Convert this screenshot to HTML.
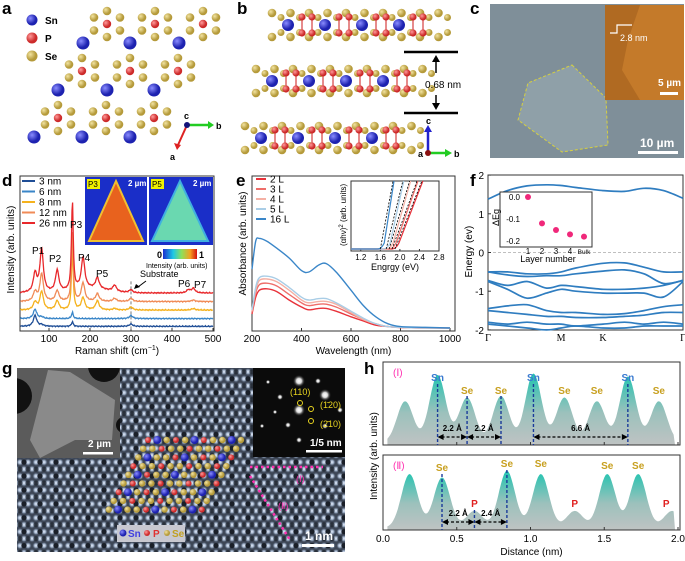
<!DOCTYPE html>
<html><head><meta charset="utf-8">
<style>
html,body{margin:0;padding:0;background:#fff;}
svg{display:block;font-family:"Liberation Sans",Arial,sans-serif;}
.pl{font-weight:bold;font-size:17px;}
</style></head>
<body>
<svg id="fig" width="685" height="561" viewBox="0 0 685 561" xmlns="http://www.w3.org/2000/svg">
<defs>
<radialGradient id="gSn" cx="35%" cy="35%"><stop offset="0" stop-color="#8a8cff"/><stop offset="1" stop-color="#1d22b0"/></radialGradient>
<radialGradient id="gP" cx="35%" cy="35%"><stop offset="0" stop-color="#ff9a9a"/><stop offset="1" stop-color="#cc2a2a"/></radialGradient>
<radialGradient id="gSe" cx="35%" cy="35%"><stop offset="0" stop-color="#f2e3a0"/><stop offset="1" stop-color="#b59a3a"/></radialGradient>
<radialGradient id="dot"><stop offset="0" stop-color="#e8f0ff"/><stop offset="0.5" stop-color="#9fb0c8"/><stop offset="1" stop-color="#5d6b80" stop-opacity="0"/></radialGradient>
<pattern id="stem" width="16" height="13.9" patternUnits="userSpaceOnUse">
<rect width="16" height="13.9" fill="#3d4656"/>
<circle cx="4" cy="3.5" r="3.6" fill="url(#dot)"/><circle cx="12" cy="3.5" r="3.6" fill="url(#dot)"/>
<circle cx="0" cy="10.4" r="3.6" fill="url(#dot)"/><circle cx="8" cy="10.4" r="3.6" fill="url(#dot)"/><circle cx="16" cy="10.4" r="3.6" fill="url(#dot)"/>
<circle cx="8" cy="3.5" r="2.6" fill="#1a1f28"/><circle cx="4" cy="10.4" r="2.6" fill="#1a1f28" opacity="0.6"/><circle cx="12" cy="10.4" r="2.6" fill="#1a1f28" opacity="0.6"/>
</pattern>
<linearGradient id="hfill" x1="0" y1="0" x2="0" y2="1"><stop offset="0" stop-color="#1fc4b0"/><stop offset="0.55" stop-color="#9cc1bc"/><stop offset="1" stop-color="#bfc3c3"/></linearGradient>
<linearGradient id="cbar" x1="0" x2="1"><stop offset="0" stop-color="#1a2fd0"/><stop offset="0.3" stop-color="#1ec8e6"/><stop offset="0.55" stop-color="#8fe05a"/><stop offset="0.8" stop-color="#f5a020"/><stop offset="1" stop-color="#d41010"/></linearGradient>
<radialGradient id="spot"><stop offset="0" stop-color="#fff"/><stop offset="0.4" stop-color="#ddd"/><stop offset="1" stop-color="#000" stop-opacity="0"/></radialGradient>
<clipPath id="semclip"><rect x="17" y="368" width="103" height="90"/></clipPath>
</defs>

<text class="pl" x="2" y="14">a</text>
<text class="pl" x="237" y="14">b</text>
<text class="pl" x="470" y="14">c</text>
<text class="pl" x="2" y="186">d</text>
<text class="pl" x="236" y="186">e</text>
<text class="pl" x="470" y="186">f</text>
<text class="pl" x="2" y="374">g</text>
<text class="pl" x="364" y="374">h</text>

<g id="pa"></g>
<g id="pb"></g>

<g>
<rect x="490" y="4" width="194" height="154" fill="#7f8f99"/>
<polygon points="572,65 606,98 608,145 562,152 518,120 528,83" fill="#8fa0a8" stroke="#d6d040" stroke-width="1" stroke-dasharray="3,2"/>
<rect x="605" y="5" width="79" height="95" fill="#b06a22"/>
<polygon points="640,5 684,5 684,100 640,100 622,70 628,40" fill="#c47a2a"/>
<polyline points="610,33 617,33 617,25 632,25" fill="none" stroke="#fff" stroke-width="1.2"/>
<text x="620" y="41" font-size="9" fill="#fff">2.8 nm</text>
<text x="658" y="86" font-size="10" fill="#fff" font-weight="bold">5 µm</text>
<rect x="660" y="92" width="18" height="3" fill="#fff"/>
<text x="640" y="147" font-size="12" fill="#fff" font-weight="bold">10 µm</text>
<rect x="638" y="151" width="40" height="3" fill="#fff"/>
</g>

<g id="pd"></g>
<g id="pe"></g>
<g id="pf"></g>

<g>
<rect x="17" y="368" width="328" height="184" fill="url(#stem)"/>
<g clip-path="url(#semclip)">
<rect x="17" y="368" width="103" height="90" fill="#5b5b5b"/>
<circle cx="14" cy="396" r="18" fill="#111"/>
<circle cx="104" cy="366" r="16" fill="#111"/>
<circle cx="124" cy="425" r="8" fill="#111"/>
<polygon points="48,370 70,372 115,400 112,440 75,440 40,458 30,440" fill="#8a8a8a"/>
</g>
<text x="88" y="447" font-size="10" fill="#fff" font-weight="bold">2 µm</text>
<rect x="83" y="452" width="30" height="2.5" fill="#fff"/>
<rect x="253" y="368" width="92" height="89" fill="#0b0b0b"/>
<g id="saed"></g>
<text x="290" y="395" font-size="9" fill="#e8d420">(110)</text>
<text x="320" y="408" font-size="9" fill="#e8d420">(1̄20)</text>
<text x="320" y="427" font-size="9" fill="#e8d420">(2̄10)</text>
<circle cx="300" cy="403" r="2.5" fill="none" stroke="#e8d420"/>
<circle cx="311" cy="409" r="2.5" fill="none" stroke="#e8d420"/>
<circle cx="311" cy="421" r="2.5" fill="none" stroke="#e8d420"/>
<text x="310" y="446" font-size="10" fill="#fff" font-weight="bold">1/5 nm</text>
<rect x="306" y="450" width="36" height="2.5" fill="#fff"/>
<g id="gatoms"></g>
<line x1="250" y1="467" x2="323" y2="467" stroke="#ff2fb0" stroke-width="2.5" stroke-dasharray="2.5,3"/>
<line x1="250" y1="476" x2="290" y2="540" stroke="#ff2fb0" stroke-width="2.5" stroke-dasharray="2.5,3"/>
<text x="296" y="482" font-size="9" fill="#ff2fb0">(Ⅰ)</text>
<text x="278" y="509" font-size="9" fill="#ff2fb0">(Ⅱ)</text>
<rect x="117" y="525" width="68" height="17" fill="#c8c8d0"/>
<circle cx="123" cy="533" r="3.5" fill="url(#gSn)"/><text x="128" y="537" font-size="10" font-weight="bold" fill="#4040e0">Sn</text>
<circle cx="147" cy="533" r="3" fill="url(#gP)"/><text x="153" y="537" font-size="10" font-weight="bold" fill="#e03030">P</text>
<circle cx="167" cy="533" r="3" fill="url(#gSe)"/><text x="172" y="537" font-size="10" font-weight="bold" fill="#c0a020">Se</text>
<text x="305" y="540" font-size="12" fill="#fff" font-weight="bold">1 nm</text>
<rect x="302" y="544" width="32" height="3" fill="#fff"/>
</g>

<g id="ph"></g>
</svg>

<script>
const dSeries = ['3 nm','6 nm','8 nm','12 nm','26 nm'];
const dColors = ['#1f4e96','#3a86c8','#f5b21d','#f08b57','#e8282b'];
const dBase = [0.03,0.08,0.135,0.19,0.245];
const dPeakPos = [66,82,120,157,183,218,260,300,440,452];
const dPeak3 = [0.07,0.01,0.0,0.03,0.0,0.0,0.0,0.015,0.0,0.0];
const dPeak6 = [0.06,0.01,0.0,0.04,0.0,0.0,0.0,0.02,0.0,0.0];
const dPeak8 = [0.05,0.12,0.06,0.40,0.08,0.06,0.01,0.02,0.0,0.01];
const dPeak12 = [0.06,0.18,0.07,0.46,0.12,0.05,0.02,0.02,0.0,0.01];
const dPeak26 = [0.12,0.28,0.14,0.58,0.20,0.07,0.04,0.02,0.02,0.03];
const dXTicks = [100,200,300,400,500];

const eSeries = ['2 L','3 L','4 L','5 L','16 L'];
const eColors = ['#e8323a','#ee6e6a','#f4b0a4','#a9cde6','#3a86c8'];
const eWl = [200,215,230,260,300,350,400,430,470,500,540,600,650,700,750,800,900,1000];
const eAbs2 = [0.10,0.22,0.27,0.28,0.26,0.20,0.15,0.13,0.14,0.14,0.12,0.08,0.05,0.02,0.01,0.003,0,0];
const eAbs3 = [0.11,0.25,0.31,0.32,0.30,0.24,0.18,0.16,0.17,0.17,0.15,0.10,0.06,0.03,0.01,0.004,0,0];
const eAbs4 = [0.12,0.27,0.34,0.35,0.33,0.27,0.20,0.18,0.19,0.19,0.17,0.11,0.06,0.03,0.01,0.004,0,0];
const eAbs5 = [0.13,0.29,0.36,0.37,0.35,0.29,0.22,0.20,0.21,0.21,0.18,0.12,0.07,0.03,0.01,0.005,0,0];
const eAbs16 = [0.42,0.62,0.64,0.62,0.57,0.50,0.41,0.40,0.45,0.46,0.40,0.27,0.16,0.08,0.03,0.01,0.005,0];
const eXTicks = [200,400,600,800,1000];
const eOnset = [1.92,1.86,1.80,1.74,1.62];
const eTop = [2.47,2.37,2.22,2.08,1.88];
const eInsetTicks = [1.2,1.6,2.0,2.4,2.8];

const fK = [0,0.1,0.2,0.3,0.375,0.45,0.59,0.7,0.8,0.9,1];
const fBands = [
 [1.38,1.6,1.72,1.75,1.73,1.68,1.6,1.58,1.66,1.6,1.4],
 [-0.5,-0.5,-0.55,-0.55,-0.5,-0.4,-0.28,-0.27,-0.38,-0.5,-0.5],
 [-0.5,-0.58,-0.62,-0.6,-0.6,-0.55,-0.48,-0.45,-0.55,-0.8,-0.72],
 [-0.72,-0.85,-0.75,-0.92,-0.85,-0.88,-0.95,-0.95,-0.92,-0.85,-0.72],
 [-0.75,-0.95,-1.18,-1.05,-0.95,-1.0,-1.05,-1.05,-1.05,-1.15,-0.75],
 [-1.45,-1.38,-1.35,-1.5,-1.55,-1.55,-1.6,-1.58,-1.5,-1.4,-1.35],
 [-1.5,-1.55,-1.6,-1.65,-1.65,-1.68,-1.68,-1.65,-1.62,-1.55,-1.55],
 [-1.8,-1.85,-1.8,-1.85,-1.85,-1.9,-1.85,-1.8,-1.85,-1.8,-1.85],
 [-1.85,-1.9,-1.95,-2.0,-1.95,-1.9,-1.95,-1.95,-1.9,-1.9,-1.9]];
const fYTicks = [2,1,0,-1,-2];
const fKLabels = ['Γ','M','K','Γ'];
const fKPos = [0,0.375,0.59,1];
const fLayers = ['1','2','3','4','Bulk'];
const fDeltaEg = [0,-0.12,-0.15,-0.17,-0.18];

const hX = [0.0,0.5,1.0,1.5,2.0];
const hPos1 = [0.15,0.37,0.57,0.80,1.02,1.23,1.45,1.66,1.87];
const hAmp1 = [0.55,0.90,0.60,0.62,0.92,0.60,0.55,0.88,0.55];
const hPos2 = [0.18,0.40,0.62,0.84,1.07,1.30,1.52,1.73,1.96];
const hAmp2 = [0.80,0.75,0.25,0.85,0.80,0.25,0.80,0.80,0.25];

const NS='http://www.w3.org/2000/svg';
function mk(tag,attrs,parent,text){const e=document.createElementNS(NS,tag);for(const k in attrs)e.setAttribute(k,attrs[k]);if(text!==undefined)e.textContent=text;parent.appendChild(e);return e;}
function smooth(pts){let d='M'+pts[0][0].toFixed(1)+','+pts[0][1].toFixed(1);for(let i=0;i<pts.length-1;i++){const p0=pts[Math.max(0,i-1)],p1=pts[i],p2=pts[i+1],p3=pts[Math.min(pts.length-1,i+2)];const c1=[p1[0]+(p2[0]-p0[0])/6,p1[1]+(p2[1]-p0[1])/6],c2=[p2[0]-(p3[0]-p1[0])/6,p2[1]-(p3[1]-p1[1])/6];d+=' C'+c1[0].toFixed(1)+','+c1[1].toFixed(1)+' '+c2[0].toFixed(1)+','+c2[1].toFixed(1)+' '+p2[0].toFixed(1)+','+p2[1].toFixed(1);}return d;}

(function(){
 const g=document.getElementById('pa');
 const sn=[[83,43],[130,43],[179,43],[58,90],[107,90],[154,90],[34,137],[82,137],[130,137]];
 const p=[[107,24],[155,24],[203,24],[82,71],[130,71],[178,71],[58,118],[106,118],[154,118]];
 function atom(x,y,r,f,n){const c=mk('circle',{cx:x,cy:y,r:r,fill:f},g);
  
  }
 p.forEach(a=>{for(let k=0;k<6;k++){const an=Math.PI/6+k*Math.PI/3;atom(a[0]+15*Math.cos(an),a[1]+13*Math.sin(an),4.3,'url(#gSe)','se-atom');}});
 p.forEach(a=>{mk('line',{x1:a[0],y1:a[1]-4,x2:a[0],y2:a[1]+4,stroke:'#d66',"stroke-width":1.5},g);atom(a[0],a[1],4.2,'url(#gP)','p-atom');});
 sn.forEach(a=>{atom(a[0],a[1],6.5,'url(#gSn)','sn-atom');});
 const lg=[['Sn','url(#gSn)',20],['P','url(#gP)',38],['Se','url(#gSe)',56]];
 lg.forEach(l=>{atom(32,l[2],5.5,l[1],'legend-atom');const t=mk('text',{x:45,y:l[2]+4,"font-size":10,"font-weight":"bold"},g,l[0]);
  
  });
 mk('line',{x1:187,y1:125,x2:208,y2:125,stroke:'#2c2',"stroke-width":2.5},g);
 mk('polygon',{points:'208,121 214,125 208,129',fill:'#2c2'},g);
 mk('line',{x1:187,y1:125,x2:178,y2:145,stroke:'#d22',"stroke-width":2},g);
 mk('polygon',{points:'174,143 177,150 181,145',fill:'#d22'},g);
 mk('circle',{cx:187,cy:125,r:3,fill:'#12127a'},g);
 mk('text',{x:184,y:119,"font-size":9,"font-weight":"bold"},g,'c');
 mk('text',{x:216,y:129,"font-size":9,"font-weight":"bold"},g,'b');
 mk('text',{x:170,y:160,"font-size":9,"font-weight":"bold"},g,'a');
})();

(function(){
 const g=document.getElementById('pb');
 const layers=[[272,25],[256,81],[245,138]];
 layers.forEach(L=>{
  const x0=L[0],yc=L[1];
  for(let i=0;i<10;i++){const x=x0+i*18.5;
   [-12,12].forEach(dy=>{const c=mk('circle',{cx:x,cy:yc+dy,r:4.3,fill:'url(#gSe)'},g);
    
    });
   [-3,3].forEach(dy=>{mk('circle',{cx:x+9,cy:yc+dy*2.5,r:3.5,fill:'url(#gSe)'},g);});
  }
  for(let j=0;j<4;j++){const x=x0+16+j*37;
   const s=mk('circle',{cx:x,cy:yc,r:6,fill:'url(#gSn)'},g);
   
   
   mk('line',{x1:x+14,y1:yc-8,x2:x+14,y2:yc+8,stroke:'#d66',"stroke-width":1.5},g);
   mk('line',{x1:x+24,y1:yc-8,x2:x+24,y2:yc+8,stroke:'#d66',"stroke-width":1.5},g);
   [[14,-8],[14,8],[24,-8],[24,8]].forEach(o=>{mk('circle',{cx:x+o[0],cy:yc+o[1],r:3.6,fill:'url(#gP)'},g);});
  }
 });
 mk('line',{x1:404,y1:52,x2:458,y2:52,stroke:'#000',"stroke-width":2.5},g);
 mk('line',{x1:404,y1:113,x2:458,y2:113,stroke:'#000',"stroke-width":2.5},g);
 mk('line',{x1:436,y1:60,x2:436,y2:73,stroke:'#000',"stroke-width":1.5},g);
 mk('polygon',{points:'432,62 436,55 440,62',fill:'#000'},g);
 mk('line',{x1:436,y1:95,x2:436,y2:107,stroke:'#000',"stroke-width":1.5},g);
 mk('polygon',{points:'432,103 436,110 440,103',fill:'#000'},g);
 const t=mk('text',{x:425,y:88,"font-size":10},g,'0.68 nm');
 
 
 mk('line',{x1:428,y1:153,x2:428,y2:130,stroke:'#22c',"stroke-width":2.5},g);
 mk('polygon',{points:'424,132 428,125 432,132',fill:'#22c'},g);
 mk('line',{x1:428,y1:153,x2:446,y2:153,stroke:'#2c2',"stroke-width":2.5},g);
 mk('polygon',{points:'445,149 452,153 445,157',fill:'#2c2'},g);
 mk('circle',{cx:428,cy:153,r:3,fill:'#8a1010'},g);
 mk('text',{x:426,y:124,"font-size":9,"font-weight":"bold"},g,'c');
 mk('text',{x:418,y:157,"font-size":9,"font-weight":"bold"},g,'a');
 mk('text',{x:454,y:157,"font-size":9,"font-weight":"bold"},g,'b');
})();

(function(){
 const g=document.getElementById('pd');
 const L=20,R=214,T=176,B=331;
 const xd=v=>8+v*0.41, yd=v=>B-v*(B-T);
 mk('rect',{x:L,y:T,width:R-L,height:B-T,fill:'none',stroke:'#333',"stroke-width":1},g);
 dXTicks.forEach(v=>{mk('line',{x1:xd(v),y1:B,x2:xd(v),y2:B-3,stroke:'#333'},g);
  const t=mk('text',{x:xd(v),y:B+11,"text-anchor":"middle","font-size":10},g,v);
  
  });
 const xt=mk('text',{x:(L+R)/2,y:B+23,"text-anchor":"middle","font-size":10},g);
 xt.innerHTML='Raman shift (cm<tspan dy="-4" font-size="7">−1</tspan><tspan dy="4">)</tspan>';
 
 
 const yt=mk('text',{x:0,y:0,transform:'translate(14,'+((T+B)/2+40)+') rotate(-90)',"font-size":10},g,'Intensity (arb. units)');
 
 
 mk('line',{x1:xd(300),y1:yd(0.32),x2:xd(300),y2:B,stroke:'#777',"stroke-dasharray":"3,2"},g);
 const peaks=[dPeak3,dPeak6,dPeak8,dPeak12,dPeak26];
 peaks.forEach((pk,si)=>{
  const pts=[];
  for(let v=30;v<=500;v+=1.5){let y=dBase[si];
   dPeakPos.forEach((c,i)=>{const w=(c===157)?2.5:5;y+=pk[i]/(1+((v-c)/w)*((v-c)/w));});
   if(si===4&&v>90&&v<300){const q=(v-200)/60;y+=0.03*Math.exp(-(q*q));}
   y+=0.004*Math.sin(v*1.7+si)*Math.cos(v*0.9);
   pts.push(xd(v).toFixed(1)+','+yd(y).toFixed(1));}
  const pl=mk('polyline',{points:pts.join(' '),fill:'none',stroke:dColors[si],"stroke-width":1.3},g);
  
  
  const ly=181+(si)*10.5;
  mk('line',{x1:22,y1:ly,x2:35,y2:ly,stroke:dColors[si],"stroke-width":2},g);
  const t=mk('text',{x:39,y:ly+3.5,"font-size":10},g,dSeries[si]);
  
  
 });
 const lab=[['P1',32,254],['P2',49,262],['P3',70,228],['P4',78,261],['P5',96,277],['P6',178,287],['P7',194,288]];
 lab.forEach(l=>{const t=mk('text',{x:l[1],y:l[2],"font-size":10},g,l[0]);
  
  });
 mk('text',{x:140,y:277,"font-size":9},g,'Substrate');
 mk('line',{x1:146,y1:281,x2:138,y2:287,stroke:'#000'},g);
 mk('polygon',{points:'134,289 136,284 140,287',fill:'#000'},g);
 const m1=mk('rect',{x:85,y:177,width:62,height:68,fill:'#1a2ec8'},g);
 
 
 mk('polygon',{points:'116,181 143,241 89,241',fill:'#e8621e',stroke:'#f0c030',"stroke-width":2},g);
 const m2=mk('rect',{x:149,y:177,width:64,height:68,fill:'#1a2ec8'},g);
 
 
 mk('polygon',{points:'180,181 208,241 152,241',fill:'#6ad8b0',stroke:'#40b0e0',"stroke-width":2},g);
 mk('rect',{x:87,y:179,width:13,height:10,fill:'#f0f000'},g);
 mk('text',{x:88,y:187,"font-size":8},g,'P3');
 mk('rect',{x:151,y:179,width:13,height:10,fill:'#f0f000'},g);
 mk('text',{x:152,y:187,"font-size":8},g,'P5');
 mk('text',{x:128,y:186,"font-size":8,fill:'#fff',"font-weight":"bold"},g,'2 µm');
 mk('text',{x:193,y:186,"font-size":8,fill:'#fff',"font-weight":"bold"},g,'2 µm');
 const cb=mk('rect',{x:163,y:249,width:34,height:10,fill:'url(#cbar)'},g);
 
 
 mk('text',{x:157,y:258,"font-size":9,"font-weight":"bold"},g,'0');
 mk('text',{x:199,y:258,"font-size":9,"font-weight":"bold"},g,'1');
 mk('text',{x:146,y:268,"font-size":7},g,'Intensity (arb. units)');
})();

(function(){
 const g=document.getElementById('pe');
 const L=252,R=455,T=176,B=331;
 const xe=v=>252+(v-200)*0.2475, ye=v=>B-3-v*140;
 mk('rect',{x:L,y:T,width:R-L,height:B-T,fill:'none',stroke:'#333'},g);
 eXTicks.forEach(v=>{mk('line',{x1:xe(v),y1:B,x2:xe(v),y2:B-3,stroke:'#333'},g);
  const t=mk('text',{x:xe(v),y:B+11,"text-anchor":"middle","font-size":10},g,v);
  
  });
 const xt=mk('text',{x:(L+R)/2,y:B+23,"text-anchor":"middle","font-size":10},g,'Wavelength (nm)');
 
 
 const yt=mk('text',{transform:'translate(246,'+((T+B)/2+42)+') rotate(-90)',"font-size":10},g,'Absorbance (arb. units)');
 
 
 const data=[eAbs2,eAbs3,eAbs4,eAbs5,eAbs16];
 data.forEach((arr,si)=>{
  const pts=eWl.map((w,i)=>[xe(w),ye(arr[i])]);
  const p=mk('path',{d:smooth(pts),fill:'none',stroke:eColors[si],"stroke-width":1.4},g);
  
  
  const ly=179+si*10;
  mk('line',{x1:256,y1:ly,x2:266,y2:ly,stroke:eColors[si],"stroke-width":2},g);
  const t=mk('text',{x:270,y:ly+3.5,"font-size":10},g,eSeries[si]);
  
  
 });
 const iL=351,iR=439,iT=181,iB=251;
 const xi=v=>iL+(v-1.0)*(iR-iL)/1.8;
 mk('rect',{x:iL,y:iT,width:iR-iL,height:iB-iT,fill:'#fff',stroke:'#333'},g);
 eInsetTicks.forEach(v=>{mk('line',{x1:xi(v),y1:iB,x2:xi(v),y2:iB-2,stroke:'#333'},g);
  const t=mk('text',{x:xi(v),y:iB+9,"text-anchor":"middle","font-size":8},g,v.toFixed(1));
  
  });
 mk('text',{x:(iL+iR)/2,y:iB+19,"text-anchor":"middle","font-size":9},g,'Engrgy (eV)');
 const it=mk('text',{transform:'translate('+(iL-5)+','+(iB-5)+') rotate(-90)',"font-size":8},g);
 it.innerHTML='(αhν)<tspan dy="-3" font-size="6">2</tspan><tspan dy="3"> (arb. units)</tspan>';
 eOnset.forEach((o,si)=>{
  const t=eTop[si];
  mk('path',{d:'M'+xi(1.0)+','+(iB-2)+' L'+xi(o-0.08)+','+(iB-2)+' Q'+xi(o)+','+(iB-2)+' '+xi(o+0.06)+','+(iB-8)+' L'+xi(t)+','+iT,fill:'none',stroke:eColors[si],"stroke-width":1.2},g);
  mk('line',{x1:xi(o-0.02),y1:iB-2,x2:xi(t-0.02),y2:iT,stroke:'#000',"stroke-width":0.8,"stroke-dasharray":"2,1.5"},g);
 });
})();

(function(){
 const g=document.getElementById('pf');
 const L=488,R=683,T=175,B=330;
 const xf=k=>L+k*(R-L), yf=E=>252.5-38.7*E;
 mk('rect',{x:L,y:T,width:R-L,height:B-T,fill:'none',stroke:'#333'},g);
 mk('line',{x1:L,y1:yf(0),x2:R,y2:yf(0),stroke:'#aaa',"stroke-dasharray":"3,2","stroke-width":0.8},g);
 fYTicks.forEach(v=>{mk('line',{x1:L,y1:yf(v),x2:L+3,y2:yf(v),stroke:'#333'},g);
  const t=mk('text',{x:L-4,y:yf(v)+4,"text-anchor":"end","font-size":10},g,v);
  
  });
 fKPos.forEach((k,i)=>{const t=mk('text',{x:xf(k),y:B+11,"text-anchor":"middle","font-size":10,"font-family":"Liberation Serif"},g,fKLabels[i]);
  
  });
 const yt=mk('text',{transform:'translate(472,'+((T+B)/2+25)+') rotate(-90)',"font-size":10},g,'Energy (ev)');
 
 
 fBands.forEach((b,bi)=>{
  const pts=fK.map((k,i)=>[xf(k),yf(b[i])]);
  const p=mk('path',{d:smooth(pts),fill:'none',stroke:'#2f7dc0',"stroke-width":1.7},g);
  
  
 });
 const iL=500,iR=592,iT=192,iB=247;
 const xi=i=>528+i*14, yi=v=>197-v*220;
 mk('rect',{x:iL,y:iT,width:iR-iL,height:iB-iT,fill:'#fff',stroke:'#333'},g);
 [0,-0.1,-0.2].forEach(v=>{const t=mk('text',{x:520,y:yi(v)+3,"text-anchor":"end","font-size":8},g,v.toFixed(1));
  
  });
 fLayers.forEach((l,i)=>{const t=mk('text',{x:xi(i),y:iB+7,"text-anchor":"middle","font-size":i===4?6.5:8},g,l);
  
  });
 fDeltaEg.forEach((v,i)=>{const c=mk('circle',{cx:xi(i),cy:yi(v),r:3,fill:'#f0287a'},g);
  
  });
 mk('text',{x:(iL+iR)/2+2,y:iB+15,"text-anchor":"middle","font-size":9},g,'Layer number');
 mk('text',{transform:'translate(499,'+(iT+34)+') rotate(-90)',"font-size":9},g,'ΔEg');
})();

(function(){
 const s=document.getElementById('saed');
 const spots=[[299,381,4],[318,381,2],[280,397,2],[325,395,4],[299,410,4],[275,412,1.5],[288,425,2],[325,426,2],[262,426,1.5],[299,440,2],[340,410,2],[268,382,1.5]];
 spots.forEach(p=>{const c=mk('circle',{cx:p[0],cy:p[1],r:p[2]*1.6,fill:'url(#spot)'},s);
  
  });
 const g=document.getElementById('gatoms');
 for(let r=0;r<9;r++){for(let c=0;c<11;c++){
  const x=148+c*9.3-r*4.9, y=440+r*8.7;
  let f='url(#gSe)',rad=3.2,n='se-atom';
  if((c+2*r)%4===1&&r%2===0){f='url(#gSn)';rad=4;n='sn-atom';}
  else if((c+r)%3===0){f='url(#gP)';rad=3;n='p-atom';}
  const a=mk('circle',{cx:x,cy:y,r:rad,fill:f},g);
  
  
 }}
})();

(function(){
 const g=document.getElementById('ph');
 const L=383,R=680;
 const xh=v=>L+v*(678-L)/2.0;
 const boxes=[[362,445,hPos1,hAmp1,'(Ⅰ)'],[455,530,hPos2,hAmp2,'(Ⅱ)']];
 boxes.forEach((b,bi)=>{
  const T=b[0],B=b[1],pos=b[2],amp=b[3];
  const yv=v=>B-1-v*(B-T-8);
  const pts=[];
  for(let d=0.03;d<=1.98;d+=0.01){let v=0.02;pos.forEach((c,i)=>{const q=d-c;v+=amp[i]*Math.exp(-(q*q)/(2*0.055*0.055));});pts.push(xh(d).toFixed(1)+','+yv(Math.min(v,1.05)).toFixed(1));}
  const area=mk('polygon',{points:xh(0.03)+','+B+' '+pts.join(' ')+' '+xh(1.98)+','+B,fill:'url(#hfill)'},g);
  
  
  mk('rect',{x:L,y:T,width:R-L,height:B-T,fill:'none',stroke:'#333'},g);
  hX.forEach(v=>{mk('line',{x1:xh(v),y1:B,x2:xh(v),y2:B-3,stroke:'#333'},g);});
  mk('text',{x:L+10,y:T+14,"font-size":10,fill:'#ff2fb0'},g,b[4]);
 });
 hX.forEach(v=>{const t=mk('text',{x:xh(v),y:542,"text-anchor":"middle","font-size":10},g,v.toFixed(1));
  
  });
 const xt=mk('text',{x:(L+R)/2,y:555,"text-anchor":"middle","font-size":10},g,'Distance (nm)');
 
 
 const yt=mk('text',{transform:'translate(377,500) rotate(-90)',"font-size":10},g,'Intensity (arb. units)');
 
 
 const up=[['Sn',0.37,381,'#3a7ad0'],['Se',0.57,394,'#c8a020'],['Se',0.80,394,'#c8a020'],['Sn',1.02,381,'#3a7ad0'],['Se',1.23,394,'#c8a020'],['Se',1.45,394,'#c8a020'],['Sn',1.66,381,'#3a7ad0'],['Se',1.87,394,'#c8a020']];
 up.forEach(l=>{const t=mk('text',{x:xh(l[1]),y:l[2],"text-anchor":"middle","font-size":10,"font-weight":"bold",fill:l[3]},g,l[0]);
  
  });
 const lo=[['Se',0.40,471,'#c8a020'],['Se',0.84,467,'#c8a020'],['Se',1.07,467,'#c8a020'],['Se',1.52,469,'#c8a020'],['Se',1.73,469,'#c8a020'],['P',0.62,507,'#e02020'],['P',1.30,507,'#e02020'],['P',1.92,507,'#e02020']];
 lo.forEach(l=>{const t=mk('text',{x:xh(l[1]),y:l[2],"text-anchor":"middle","font-size":10,"font-weight":"bold",fill:l[3]},g,l[0]);
  
  });
 [[0.37,384,445],[0.57,396,445],[0.80,396,445],[1.02,384,445],[1.66,384,445],[0.40,474,530],[0.62,510,530],[0.84,470,530]].forEach(v=>{
  mk('line',{x1:xh(v[0]),y1:v[1],x2:xh(v[0]),y2:v[2],stroke:'#1a3a9a',"stroke-width":1.4,"stroke-dasharray":"3,2"},g);});
 function arr(a,b,y,lab){
  mk('line',{x1:xh(a)+4,y1:y,x2:xh(b)-4,y2:y,stroke:'#000',"stroke-width":1.3,"stroke-dasharray":"3,2"},g);
  mk('polygon',{points:(xh(a))+','+y+' '+(xh(a)+6)+','+(y-3)+' '+(xh(a)+6)+','+(y+3),fill:'#000'},g);
  mk('polygon',{points:(xh(b))+','+y+' '+(xh(b)-6)+','+(y-3)+' '+(xh(b)-6)+','+(y+3),fill:'#000'},g);
  const t=mk('text',{x:(xh(a)+xh(b))/2,y:y-6,"text-anchor":"middle","font-size":8,"font-weight":"bold"},g,lab);
  
  }
 arr(0.37,0.57,437,'2.2 Å');arr(0.57,0.80,437,'2.2 Å');arr(1.02,1.66,437,'6.6 Å');
 arr(0.40,0.62,522,'2.2 Å');arr(0.62,0.84,522,'2.4 Å');
})();
</script>
</body></html>
